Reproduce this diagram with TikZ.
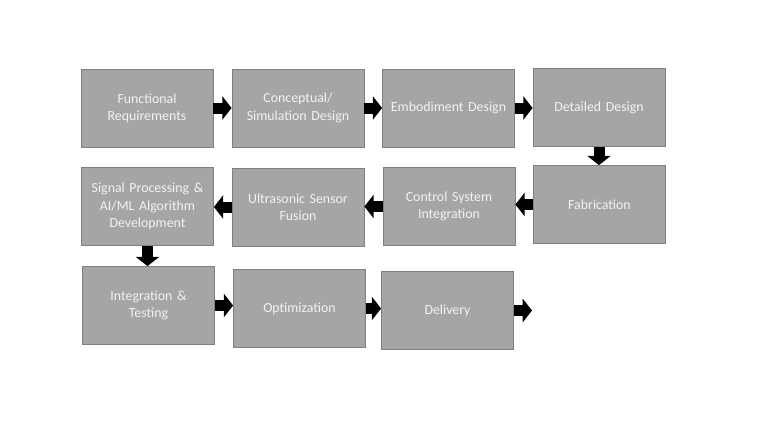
\documentclass[tikz,border=0pt]{standalone}
\usepackage{fontspec}
\setmainfont{Carlito}
\usetikzlibrary{arrows.meta}
\definecolor{boxfill}{HTML}{A5A5A5}
\definecolor{boxline}{HTML}{808080}
\definecolor{boxtext}{HTML}{F2F2F2}
\tikzset{
  stepbox/.style={draw=boxline, line width=0.6pt, fill=boxfill, text=boxtext,
    minimum width=99pt, minimum height=58.5pt, inner sep=2pt, align=center,
    font=\fontsize{10.4}{13}\selectfont, text width=95pt},
  blk/.style={line width=8.25pt, black, -{Triangle[length=7pt,width=17.5pt]}}
}
\begin{document}
\begin{tikzpicture}[x=0.75pt,y=-0.75pt]
\useasboundingbox[fill=white] (0,0) rectangle (768,433);
\node[stepbox] (fr) at (147,108) {Functional\\Requirements};
\node[stepbox] (cs) at (298,108) {Conceptual/\\Simulation Design};
\node[stepbox] (ed) at (448.5,108) {Embodiment Design};
\node[stepbox] (dd) at (599,107.5) {Detailed Design};
\node[stepbox] (fa) at (599.5,204.5) {Fabrication};
\node[stepbox] (ci) at (449,206.5) {Control System\\Integration};
\node[stepbox] (us) at (298,207) {Ultrasonic Sensor\\Fusion};
\node[stepbox] (sp) at (147.5,206.5) {Signal Processing \&\\AI/ML Algorithm\\Development};
\node[stepbox] (it) at (148.5,305.5) {Integration \&\\Testing};
\node[stepbox] (op) at (299.5,308.5) {Optimization};
\node[stepbox] (de) at (447.5,310.5) {Delivery};
\coordinate (end) at (532,310.5);
\draw[blk] (fr.east) -- (fr.east -| cs.west);
\draw[blk] (cs.east) -- (cs.east -| ed.west);
\draw[blk] (ed.east) -- (ed.east -| dd.west);
\draw[blk] (dd.south) -- (dd.south |- fa.north);
\draw[blk] (fa.west) -- (fa.west -| ci.east);
\draw[blk] (ci.west) -- (ci.west -| us.east);
\draw[blk] (us.west) -- (us.west -| sp.east);
\draw[blk] (sp.south) -- (sp.south |- it.north);
\draw[blk] (it.east) -- (it.east -| op.west);
\draw[blk] (op.east) -- (op.east -| de.west);
\draw[blk] (de.east) -- (end);
\end{tikzpicture}
\end{document}
